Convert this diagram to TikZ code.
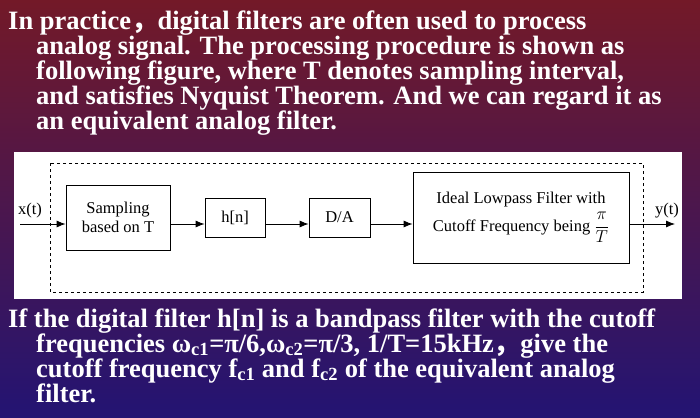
\documentclass[tikz,border=0pt]{standalone}
\usepackage{fontspec}
\setmainfont{Liberation Serif}
\newfontfamily\cjk{Noto Sans CJK SC}
\usetikzlibrary{arrows.meta}
\begin{document}
\begin{tikzpicture}[x=1pt,y=-1pt,
  tl/.style={anchor=base west,text=white,font=\fontsize{26.5}{24}\selectfont\bfseries,inner sep=0},
  blk/.style={draw,thick,fill=white,font=\fontsize{16.5}{19}\selectfont,align=center,inner sep=0},
  arr/.style={thick,-{Latex[length=9pt,width=7pt]}},
  lbl/.style={font=\fontsize{16.5}{19}\selectfont,inner sep=0}]
\shade[top color={rgb,255:red,115;green,25;blue,40},bottom color={rgb,255:red,35;green,20;blue,115}] (0,0) rectangle (700,417);
\useasboundingbox (0,0) rectangle (700,417);
\node[tl] (t1) at (8,30) {In practice{\cjk ，}digital filters are often used to process};
\node[tl] (t2) at (36,55) {analog signal. The processing procedure is shown as};
\node[tl] (t3) at (36,80) {following figure, where T denotes sampling interval,};
\node[tl] (t4) at (36,104) {and satisfies Nyquist Theorem. And we can regard it as};
\node[tl] (t5) at (36,129) {an equivalent analog filter.};
\fill[white] (14,152) rectangle (682,299);
\draw[dashed] (50,163) rectangle (643,292);
\node[blk,minimum width=104pt,minimum height=65pt] (s) at (118,217.5) {Sampling\\based on T};
\node[blk,minimum width=60pt,minimum height=39pt] (h) at (235,217.5) {h[n]};
\node[blk,minimum width=61pt,minimum height=39pt] (d) at (339.5,217.5) {D/A};
\node[blk,minimum width=216pt,minimum height=91pt] (f) at (521,217.5) {Ideal Lowpass Filter with\\[4pt]Cutoff Frequency being $\displaystyle\frac{\pi}{T}$};
\coordinate (in) at (20,224);
\coordinate (out) at (675,224);
\node[lbl] (x) at (30,211) {x(t)};
\node[lbl] (y) at (667,211) {y(t)};
\draw[arr] (in) -- (in -| s.west);
\draw[arr] (s.east |- in) -- (h.west |- in);
\draw[arr] (h.east |- in) -- (d.west |- in);
\draw[arr] (d.east |- in) -- (f.west |- in);
\draw[arr] (f.east |- in) -- (out);
\node[tl] (b1) at (8,327) {If the digital filter h[n] is a bandpass filter with the cutoff};
\node[tl] (b2) at (36,352) {frequencies ω\textsubscript{c1}=π/6,ω\textsubscript{c2}=π/3, 1/T=15kHz{\cjk ，}give the};
\node[tl] (b3) at (36,377) {cutoff frequency f\textsubscript{c1} and f\textsubscript{c2} of the equivalent analog};
\node[tl] (b4) at (36,402) {filter.};
\end{tikzpicture}
\end{document}
